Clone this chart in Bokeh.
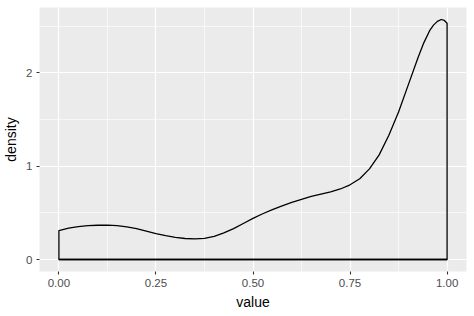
from bokeh.plotting import figure
from bokeh.models import Range1d, FixedTicker, NumeralTickFormatter
from bokeh.embed import file_html
from bokeh.resources import INLINE

# density estimate
value = [0.0, 0.025, 0.05, 0.075, 0.1, 0.125, 0.15, 0.175, 0.2, 0.225, 0.25, 0.275,
         0.3, 0.325, 0.35, 0.375, 0.4, 0.425, 0.45, 0.475, 0.5, 0.525, 0.55, 0.575,
         0.6, 0.625, 0.65, 0.675, 0.7, 0.725, 0.75, 0.775, 0.8, 0.825, 0.85, 0.875,
         0.9, 0.925, 0.94, 0.955, 0.965, 0.975, 0.985, 0.993, 1.0]
density = [0.31, 0.335, 0.352, 0.362, 0.367, 0.368, 0.362, 0.35, 0.33, 0.305, 0.278, 0.255,
           0.237, 0.225, 0.22, 0.226, 0.248, 0.285, 0.33, 0.385, 0.44, 0.49, 0.535, 0.575,
           0.612, 0.645, 0.675, 0.70, 0.725, 0.755, 0.80, 0.865, 0.97, 1.12, 1.33, 1.58,
           1.87, 2.16, 2.32, 2.45, 2.51, 2.55, 2.57, 2.56, 2.53]

x_ticks = [0.0, 0.25, 0.5, 0.75, 1.0]
x_minor = [0.125, 0.375, 0.625, 0.875]
y_ticks = [0, 1, 2]
y_minor = [0.5, 1.5, 2.5]

xmin, xmax = min(value), max(value)
ymin, ymax = 0.0, max(density)
xpad = (xmax - xmin) * 0.05
ypad = (ymax - ymin) * 0.05

p = figure(width=474, height=316, output_backend="svg", toolbar_location=None,
           x_range=Range1d(xmin - xpad, xmax + xpad),
           y_range=Range1d(ymin - ypad, ymax + ypad),
           min_border_left=38, min_border_right=8, min_border_top=7, min_border_bottom=45)

p.background_fill_color = "#EBEBEB"
p.border_fill_color = "white"
p.outline_line_color = None

# outline polygon of the density (closed to baseline)
px = [value[0]] + value + [value[-1]]
py = [0.0] + density + [0.0]
p.patch(px, py, fill_alpha=0, line_color="black", line_width=1.3, line_join="round")
p.line([value[0], value[-1]], [0, 0], line_color="black", line_width=1.3)

p.xaxis.ticker = FixedTicker(ticks=x_ticks, minor_ticks=x_minor)
p.yaxis.ticker = FixedTicker(ticks=y_ticks, minor_ticks=y_minor)
p.xaxis.formatter = NumeralTickFormatter(format="0.00")

for g in (p.xgrid, p.ygrid):
    g.grid_line_color = "white"
    g.grid_line_width = 1.2
    g.minor_grid_line_color = "white"
    g.minor_grid_line_width = 0.6

for ax in (p.xaxis, p.yaxis):
    ax.axis_line_color = None
    ax.major_tick_line_color = "#333333"
    ax.major_tick_line_width = 1.1
    ax.major_tick_out = 3
    ax.major_tick_in = 0
    ax.minor_tick_line_color = None
    ax.major_label_text_font = "Liberation Sans"
    ax.major_label_text_font_size = "11.5px"
    ax.major_label_text_color = "#4D4D4D"
    ax.major_label_standoff = 3
    ax.axis_label_text_font = "Liberation Sans"
    ax.axis_label_text_font_size = "14px"
    ax.axis_label_text_font_style = "normal"
    ax.axis_label_text_color = "black"
    ax.axis_label_standoff = 4

p.xaxis.axis_label = "value"
p.yaxis.axis_label = "density"

open("out.html", "w").write(file_html(p, INLINE))
